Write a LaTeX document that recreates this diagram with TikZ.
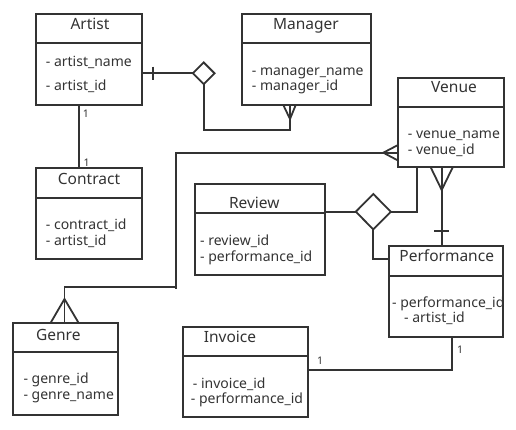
\documentclass[tikz,border=0pt]{standalone}
\usepackage{fontspec}
\setmainfont{Noto Sans}
\usetikzlibrary{shapes.geometric,calc}

\begin{document}
\begin{tikzpicture}[x=1pt, y=-1pt,
    entbox/.style={draw=black!80, line width=1.8pt, inner sep=0pt, outer sep=0pt},
    ttl/.style={font=\fontsize{15.5}{18}\selectfont, text=black!80, anchor=base, inner sep=0pt},
    attr/.style={font=\fontsize{14}{16}\selectfont, text=black!80, anchor=base west, inner sep=0pt},
    conn/.style={draw=black!80, line width=1.8pt},
    rel/.style={diamond, draw=black!80, line width=1.8pt, inner sep=0pt, outer sep=0pt},
    card/.style={font=\fontsize{10.5}{12}\selectfont, text=black!80, inner sep=0pt}]
    \useasboundingbox (0,0) rectangle (516,429);

    % Artist
    \node[entbox, minimum width=106pt, minimum height=91pt] (artist) at (88.7,59.5) {};
    \draw[entbox] (artist.west |- 0,43) -- (artist.east |- 0,43);
    \node[ttl] (artistttl) at (90,29.5) {Artist};
    \node[attr] (artistname) at (45.7,66.5) {- artist\_name};
    \node[attr] (artistid) at (45.7,90.5) {- artist\_id};

    % Manager
    \node[entbox, minimum width=129pt, minimum height=91pt] (manager) at (306.2,59.5) {};
    \draw[entbox] (manager.west |- 0,43) -- (manager.east |- 0,43);
    \node[ttl] (managerttl) at (306,29.5) {Manager};
    \node[attr] (managername) at (251.7,75.5) {- manager\_name};
    \node[attr] (managerid) at (251.7,90.5) {- manager\_id};

    % Venue
    \node[entbox, minimum width=106pt, minimum height=89.6pt] (venue) at (451,122.5) {};
    \draw[entbox] (venue.west |- 0,107.3) -- (venue.east |- 0,107.3);
    \node[ttl] (venuettl) at (454,92.5) {Venue};
    \node[attr] (venuename) at (407.7,138.5) {- venue\_name};
    \node[attr] (venueid) at (407.7,154.5) {- venue\_id};

    % Contract
    \node[entbox, minimum width=106pt, minimum height=90.7pt] (contract) at (88.7,213.7) {};
    \draw[entbox] (contract.west |- 0,197.7) -- (contract.east |- 0,197.7);
    \node[ttl] (contractttl) at (89,184.2) {Contract};
    \node[attr] (contractid) at (45.7,229.5) {- contract\_id};
    \node[attr] (contractartist) at (45.7,245.2) {- artist\_id};

    % Review
    \node[entbox, minimum width=130pt, minimum height=91pt] (review) at (260,229.5) {};
    \draw[entbox] (review.west |- 0,213.3) -- (review.east |- 0,213.3);
    \node[ttl] (reviewttl) at (254.3,208.8) {Review};
    \node[attr] (reviewid) at (200,245.2) {- review\_id};
    \node[attr] (reviewperf) at (200,261.2) {- performance\_id};

    % Performance
    \node[entbox, minimum width=113.7pt, minimum height=90.7pt] (perf) at (445.9,291.3) {};
    \draw[entbox] (perf.west |- 0,276) -- (perf.east |- 0,276);
    \node[ttl] (perfttl) at (446.7,261.5) {Performance};
    \node[attr] (perfid) at (392,307.2) {- performance\_id};
    \node[attr] (perfartist) at (404,322.8) {- artist\_id};

    % Genre
    \node[entbox, minimum width=105.6pt, minimum height=92.3pt] (genre) at (65.5,368.9) {};
    \draw[entbox] (genre.west |- 0,352) -- (genre.east |- 0,352);
    \node[ttl] (genrettl) at (58.3,340.5) {Genre};
    \node[attr] (genreid) at (23.3,383.8) {- genre\_id};
    \node[attr] (genrename) at (23.3,399.5) {- genre\_name};

    % Invoice
    \node[entbox, minimum width=125.6pt, minimum height=90.6pt] (invoice) at (245.5,372) {};
    \draw[entbox] (invoice.west |- 0,356) -- (invoice.east |- 0,356);
    \node[ttl] (invoicettl) at (230,342.8) {Invoice};
    \node[attr] (invoiceid) at (192.7,388.5) {- invoice\_id};
    \node[attr] (invoiceperf) at (190.7,403.5) {- performance\_id};

    % Relationship diamonds
    \node[rel, minimum width=21.7pt, minimum height=21.7pt] (manages) at (203.7,73.3) {};
    \node[rel, minimum width=35pt, minimum height=35.4pt] (reviews) at (373.3,211.7) {};

    % Artist -- Contract
    \draw[conn] (artist.south -| 79,0) -- (contract.north -| 79,0);
    \node[card] (c1) at (86,113.3) {1};
    \node[card] (c2) at (86.7,162.7) {1};

    % Artist -- Manager
    \coordinate (mgrbend) at (290,130);
    \coordinate (mgrfoot) at (290,105);
    \draw[conn] (manages.west -| artist.east) -- (manages.west);
    \draw[conn] (152.7,66.5) -- (152.7,80);
    \draw[conn] (manages.south) |- (mgrbend) -- (mgrfoot);
    \draw[conn] (283.3,105) -- (290,119) -- (295.7,105);

    % Venue -- Genre
    \coordinate (vfoot) at (398,152.7);
    \coordinate (gfoot) at (64.5,322.7);
    \draw[conn] (vfoot) -- (176,152.7) -- (176,289);
    \draw[conn] (176,287) -| (gfoot);
    \draw[conn] (398,145) -- (383.3,152.7) -- (398,160.5);
    \draw[conn] (50.7,322.7) -- (64.5,299) -- (78.5,322.7);

    % Venue -- Performance
    \coordinate (vtop) at (441.7,167.3);
    \coordinate (pbot) at (441.7,246);
    \draw[conn] (vtop) -- (pbot);
    \draw[conn] (430.7,167.3) -- (441.7,190) -- (452.7,167.3);
    \draw[conn] (434,231) -- (449.3,231);

    % Review -- Venue -- Performance
    \coordinate (vlink) at (417.3,167.3);
    \coordinate (plink) at (389,259);
    \draw[conn] (reviews.west -| review.east) -- (reviews.west);
    \draw[conn] (reviews.east) -| (vlink);
    \draw[conn] (reviews.south) |- (plink);

    % Invoice -- Performance
    \coordinate (ilink) at (308.3,370);
    \coordinate (pfoot) at (452.3,336.7);
    \draw[conn] (ilink) -| (pfoot);
    \node[card] (c3) at (320,360.7) {1};
    \node[card] (c4) at (460,350) {1};
\end{tikzpicture}
\end{document}
